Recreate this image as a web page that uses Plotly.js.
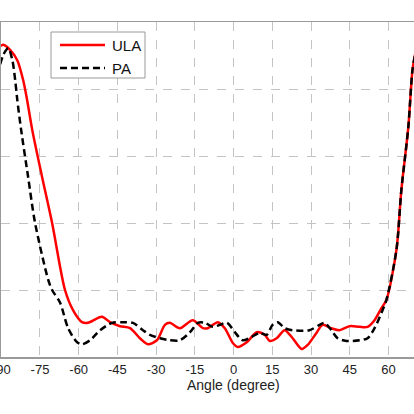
<!DOCTYPE html>
<html>
<head>
<meta charset="utf-8">
<script src="https://cdn.plot.ly/plotly-3.0.1.min.js"></script>
<style>html,body{margin:0;padding:0;background:#fff;}#chart{width:414px;height:414px;}</style>
</head>
<body>
<div id="chart"></div>
<script>
var ulaAngle = [-90.4,-89.2,-86.5,-83.8,-81.5,-80.0,-78.0,-74.2,-70.3,-65.3,-62.2,-58.7,-56.4,-51.0,-47.9,-44.0,-40.1,-36.3,-33.2,-29.7,-26.6,-24.7,-20.8,-15.8,-11.9,-10.0,-6.1,-3.4,-0.3,1.6,5.1,9.0,12.1,14.0,16.7,19.8,22.9,26.4,28.7,32.1,34.5,37.9,41.0,44.9,48.8,51.9,54.6,57.3,59.2,63.1,65.0,67.7,69.3,70.5];
var ulaGain = [-3.6,-3.4,-4.2,-5.7,-8.7,-11.6,-16.1,-23.1,-30.0,-40.0,-43.0,-44.8,-44.9,-44.0,-44.8,-45.4,-45.7,-47.2,-48.1,-47.5,-45.2,-44.9,-45.7,-44.5,-45.7,-45.7,-44.8,-45.7,-47.9,-48.5,-47.8,-46.3,-46.7,-47.6,-47.2,-46.0,-47.2,-48.8,-48.2,-46.4,-45.2,-45.7,-46.0,-45.4,-45.5,-45.5,-44.5,-42.7,-41.5,-34.0,-25.1,-15.7,-7.2,-4.5];
var paAngle = [-90.4,-89.2,-87.3,-85.7,-84.6,-83.8,-82.3,-79.6,-76.9,-71.8,-70.3,-67.2,-64.1,-60.6,-58.7,-55.6,-51.7,-47.1,-42.8,-39.0,-35.1,-32.4,-28.5,-24.7,-20.8,-16.9,-13.8,-11.1,-8.0,-5.3,-2.6,0.5,3.5,7.0,10.1,12.8,15.1,17.1,19.8,22.9,29.4,33.3,35.2,37.9,40.3,43.7,48.8,51.9,54.6,57.3,59.2,63.1,65.0,67.7,69.3,70.5];
var paGain = [-6.3,-4.9,-3.9,-5.7,-8.7,-11.6,-16.1,-23.1,-30.0,-38.5,-40.0,-41.9,-45.7,-47.8,-48.1,-47.5,-46.0,-44.9,-44.8,-44.9,-46.0,-46.7,-47.2,-47.5,-47.5,-46.3,-44.9,-44.9,-45.5,-45.2,-44.9,-46.3,-47.5,-47.0,-46.4,-46.7,-45.2,-44.8,-45.7,-46.0,-46.0,-45.2,-44.9,-46.0,-47.2,-47.6,-47.5,-47.2,-45.7,-43.4,-41.5,-34.0,-25.1,-15.7,-7.2,-4.5];
var xTicks = [-90,-75,-60,-45,-30,-15,0,15,30,45,60,75,90];
var seriesNames = ['ULA','PA'];
var seriesColors = ['#ff0000','#000000'];

var traces = [
  {x: ulaAngle, y: ulaGain, name: seriesNames[0], mode: 'lines', line: {color: seriesColors[0], width: 2.5, shape: 'spline', smoothing: 0.8}},
  {x: paAngle, y: paGain, name: seriesNames[1], mode: 'lines', line: {color: seriesColors[1], width: 2.5, dash: '7px,4px', shape: 'spline', smoothing: 0.8}}
];

// custom legend (pixel positions converted to paper coords)
function px(x){ return (x - 1) / 413; }
function py(y){ return (357 - y) / 335; }

var shapes = [
  {type: 'rect', xref: 'paper', yref: 'paper', x0: px(51), x1: px(145), y0: py(78), y1: py(32),
   fillcolor: '#ffffff', line: {color: '#9a9a9a', width: 1}, layer: 'above'},
  {type: 'line', xref: 'paper', yref: 'paper', x0: px(60), x1: px(105), y0: py(45), y1: py(45),
   line: {color: seriesColors[0], width: 2.5}, layer: 'above'},
  {type: 'line', xref: 'paper', yref: 'paper', x0: px(60), x1: px(105), y0: py(68), y1: py(68),
   line: {color: seriesColors[1], width: 2.5, dash: '7px,4px'}, layer: 'above'}
];

var layout = {
  width: 414, height: 414,
  margin: {l: 1, r: 0, t: 22, b: 57},
  paper_bgcolor: '#ffffff', plot_bgcolor: '#ffffff',
  font: {family: 'Liberation Sans, Arial, sans-serif', color: '#222'},
  showlegend: false,
  xaxis: {
    range: [-90.1, 69.9], tickvals: xTicks, ticktext: xTicks.map(String),
    showgrid: true, gridcolor: '#c4c4c4', griddash: 'dash', gridwidth: 1,
    showline: true, linecolor: '#9a9a9a', linewidth: 1.5, mirror: true,
    ticks: '', tickfont: {size: 13, color: '#222'}, zeroline: false,
    ticklabeloverflow: 'allow'
  },
  yaxis: {
    range: [-50, 0], dtick: 10,
    showgrid: true, gridcolor: '#c4c4c4', griddash: 'dash', gridwidth: 1,
    showline: true, linecolor: '#9a9a9a', linewidth: 2.5, mirror: false,
    showticklabels: false, ticks: '', zeroline: false
  },
  shapes: shapes,
  annotations: [
    {text: 'Angle (degree)', x: 0, xref: 'x', y: -0.084, yref: 'paper',
     xanchor: 'center', yanchor: 'middle', showarrow: false, font: {size: 14, color: '#222'}},
    {text: seriesNames[0], x: px(110), xref: 'paper', y: py(45), yref: 'paper',
     xanchor: 'left', yanchor: 'middle', showarrow: false, font: {size: 15, color: '#111'}},
    {text: seriesNames[1], x: px(110), xref: 'paper', y: py(68), yref: 'paper',
     xanchor: 'left', yanchor: 'middle', showarrow: false, font: {size: 15, color: '#111'}}
  ]
};

Plotly.newPlot('chart', traces, layout, {displayModeBar: false, staticPlot: true});
</script>
</body>
</html>
